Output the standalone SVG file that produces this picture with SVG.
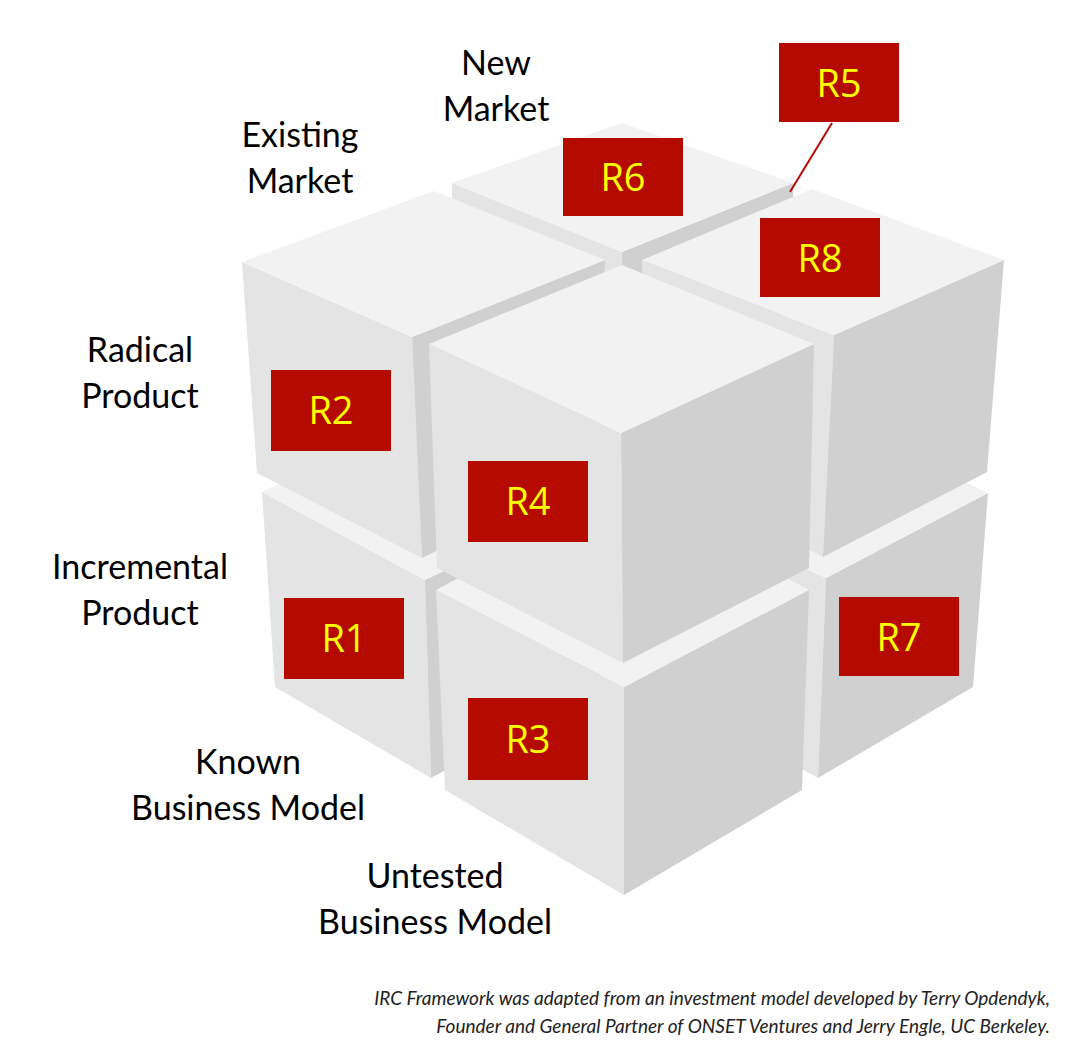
<svg xmlns="http://www.w3.org/2000/svg" width="1087" height="1056" viewBox="0 0 1087 1056">
<style>
.t{fill:#f2f2f2}.l{fill:#e4e4e4}.r{fill:#d0d0d0}
.lab{font-family:Lato,"Noto Sans",sans-serif;font-size:34px;fill:#000;text-anchor:middle}
.box{fill:#b50a00}
.bt{font-family:"Open Sans","Noto Sans",sans-serif;font-size:38px;fill:#ffff00;text-anchor:middle}
.cap{font-family:Lato,"Noto Sans",sans-serif;font-size:19px;font-style:italic;fill:#222;text-anchor:end}
</style>
<rect width="1087" height="1056" fill="#fff"/>
<g id="cube-r6"><polygon class="l" points="452,183 622,252 622,380 452,310"/><polygon class="r" points="622,252 793,183 793,310 622,380"/><polygon class="t" points="452,183 622,123 793,183 622,252"/></g>
<g id="cube-r1"><polygon class="l" points="262,492 425,580 431,778 275,687"/><polygon class="r" points="425,580 605,492 600,687 431,778"/><polygon class="t" points="262,492 434,410 605,492 425,580"/></g>
<g id="cube-r7"><polygon class="l" points="640,493 826,578 818,778 650,687"/><polygon class="r" points="826,578 988,493 973,687 818,778"/><polygon class="t" points="640,493 812,410 988,493 826,578"/></g>
<g id="cube-r2"><polygon class="l" points="242,262 412,337 422,558 257,473"/><polygon class="r" points="412,337 605,260 600,470 422,558"/><polygon class="t" points="242,262 434,191 605,260 412,337"/></g>
<g id="cube-r8"><polygon class="l" points="642,260 834,335 823,557 650,470"/><polygon class="r" points="834,335 1004,260 987,472 823,557"/><polygon class="t" points="642,260 812,189 1004,260 834,335"/></g>
<g id="cube-r3"><polygon class="l" points="436,590 624,687 624,895 445,790"/><polygon class="r" points="624,687 809,590 802,790 624,895"/><polygon class="t" points="436,590 623,490 809,590 624,687"/></g>
<g id="cube-r4"><polygon class="l" points="429,344 621,433 623,663 437,568"/><polygon class="r" points="621,433 814,344 809,568 623,663"/><polygon class="t" points="429,344 622,265 814,344 621,433"/></g>
<g id="connectors"><line x1="832" y1="123" x2="790" y2="192" stroke="#b50a00" stroke-width="2"/></g>
<g id="R5"><rect class="box" x="779" y="43" width="120" height="79"/><text class="bt" x="839" y="97">R5</text></g>
<g id="R6"><rect class="box" x="563" y="138" width="120" height="78"/><text class="bt" x="623" y="191">R6</text></g>
<g id="R8"><rect class="box" x="760" y="218" width="120" height="79"/><text class="bt" x="820" y="272">R8</text></g>
<g id="R2"><rect class="box" x="271" y="370" width="120" height="81"/><text class="bt" x="331" y="424">R2</text></g>
<g id="R4"><rect class="box" x="468" y="461" width="120" height="81"/><text class="bt" x="528" y="515">R4</text></g>
<g id="R1"><rect class="box" x="284" y="598" width="120" height="81"/><text class="bt" x="344" y="652">R1</text></g>
<g id="R3"><rect class="box" x="468" y="698" width="120" height="82"/><text class="bt" x="528" y="753">R3</text></g>
<g id="R7"><rect class="box" x="839" y="597" width="120" height="79"/><text class="bt" x="899" y="651">R7</text></g>
<g id="labels">
<text class="lab" x="496" y="75">New</text><text class="lab" x="496" y="121">Market</text>
<text class="lab" x="300" y="147">Existing</text><text class="lab" x="300" y="193">Market</text>
<text class="lab" x="140" y="362">Radical</text><text class="lab" x="140" y="408">Product</text>
<text class="lab" x="140" y="579">Incremental</text><text class="lab" x="140" y="625">Product</text>
<text class="lab" x="248" y="774">Known</text><text class="lab" x="248" y="820">Business Model</text>
<text class="lab" x="435" y="888">Untested</text><text class="lab" x="435" y="934">Business Model</text>
<text class="cap" x="1050" y="1005">IRC Framework was adapted from an investment model developed by Terry Opdendyk,</text>
<text class="cap" x="1050" y="1033">Founder and General Partner of ONSET Ventures and Jerry Engle, UC Berkeley.</text>
</g>
</svg>
